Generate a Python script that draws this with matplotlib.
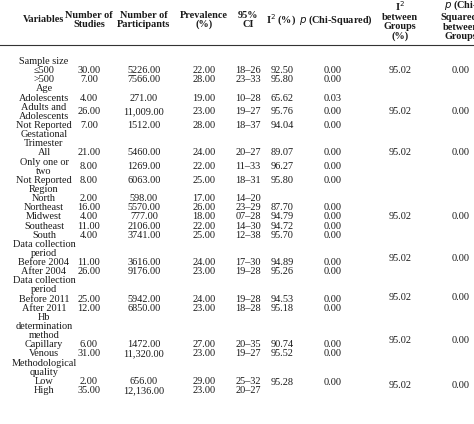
import matplotlib
matplotlib.use("Agg")
import matplotlib.pyplot as plt

headers = ["Variables", "Number of\nStudies", "Number of\nParticipants", "Prevalence\n(%)",
           "95%\nCI", "I$^2$ (%)", "$p$ (Chi-Squared)", "I$^2$\nbetween\nGroups\n(%)",
           "$p$ (Chi-\nSquared)\nbetween\nGroups"]
col_x = [44, 89, 144, 204, 248, 281, 336, 400, 461]

label_lines = ["Sample size", "≤500", ">500", "Age", "Adolescents", "Adults and", "Adolescents",
               "Not Reported", "Gestational", "Trimester", "All", "Only one or", "two",
               "Not Reported", "Region", "North", "Northeast", "Midwest", "Southeast", "South",
               "Data collection", "period", "Before 2004", "After 2004", "Data collection",
               "period", "Before 2011", "After 2011", "Hb", "determination", "method",
               "Capillary", "Venous", "Methodological", "quality", "Low", "High"]

row_line = [1, 2, 4, 5.5, 7, 10, 11.5, 13, 15, 16, 17, 18, 19, 22, 23, 26, 27, 31, 32, 35, 36]
studies = ["30.00", "7.00", "4.00", "26.00", "7.00", "21.00", "8.00", "8.00", "2.00", "16.00",
           "4.00", "11.00", "4.00", "11.00", "26.00", "25.00", "12.00", "6.00", "31.00", "2.00", "35.00"]
participants = ["5226.00", "7566.00", "271.00", "11,009.00", "1512.00", "5460.00", "1269.00",
                "6063.00", "598.00", "5570.00", "777.00", "2106.00", "3741.00", "3616.00",
                "9176.00", "5942.00", "6850.00", "1472.00", "11,320.00", "656.00", "12,136.00"]
prevalence = ["22.00", "28.00", "19.00", "23.00", "28.00", "24.00", "22.00", "25.00", "17.00",
              "26.00", "18.00", "22.00", "25.00", "24.00", "23.00", "24.00", "23.00", "27.00",
              "23.00", "29.00", "23.00"]
ci = ["18–26", "23–33", "10–28", "19–27", "18–37", "20–27", "11–33", "18–31", "14–20", "23–29",
      "07–28", "14–30", "12–38", "17–30", "19–28", "19–28", "18–28", "20–35", "19–27", "25–32", "20–27"]
i2 = ["92.50", "95.80", "65.62", "95.76", "94.04", "89.07", "96.27", "95.80", "", "87.70",
      "94.79", "94.72", "95.70", "94.89", "95.26", "94.53", "95.18", "90.74", "95.52", "", ""]
pchi = ["0.00", "0.00", "0.03", "0.00", "0.00", "0.00", "0.00", "0.00", "", "0.00", "0.00",
        "0.00", "0.00", "0.00", "0.00", "0.00", "0.00", "0.00", "0.00", "", ""]

pooled_line = [35.5]
pooled_i2 = ["95.28"]
pooled_p = ["0.00"]

group_line = [1, 5.5, 10, 17, 21.5, 25.8, 30.5, 35.5]
group_i2 = ["95.02"] * 8
group_p = ["0.00"] * 8

y0, dy = 61.5, 9.14
def ly(i):
    return y0 + i * dy

fig = plt.figure(figsize=(4.74, 4.24), dpi=100)
ax = fig.add_axes([0, 0, 1, 1])
ax.set_xlim(0, 474)
ax.set_ylim(424, 0)
ax.axis("off")

fam = ["Liberation Serif", "DejaVu Serif"]
fs = 7.4
c = "#1a1a1a"
for x, h in zip(col_x, headers):
    ax.text(x, 20, h, ha="center", va="center", fontsize=fs, fontweight="bold",
            family=fam, color=c, linespacing=1.05)
ax.plot([0, 474], [44.5, 44.5], color="#333333", lw=0.8)

for i, t in enumerate(label_lines):
    ax.text(col_x[0], ly(i), t, ha="center", va="center", fontsize=fs, family=fam, color=c)

for j, ln in enumerate(row_line):
    for x, col in zip([89, 144, 204, 248, 282, 333], [studies, participants, prevalence, ci, i2, pchi]):
        if col[j]:
            ax.text(x, ly(ln), col[j], ha="center", va="center", fontsize=fs, family=fam, color=c)

for ln, a, b in zip(pooled_line, pooled_i2, pooled_p):
    ax.text(282, ly(ln) - 3, a, ha="center", va="center", fontsize=fs, family=fam, color=c)
    ax.text(333, ly(ln) - 3, b, ha="center", va="center", fontsize=fs, family=fam, color=c)

for ln, a, b in zip(group_line, group_i2, group_p):
    ax.text(col_x[7], ly(ln), a, ha="center", va="center", fontsize=fs, family=fam, color=c)
    ax.text(col_x[8], ly(ln), b, ha="center", va="center", fontsize=fs, family=fam, color=c)

fig.savefig("out.png", dpi=100)
